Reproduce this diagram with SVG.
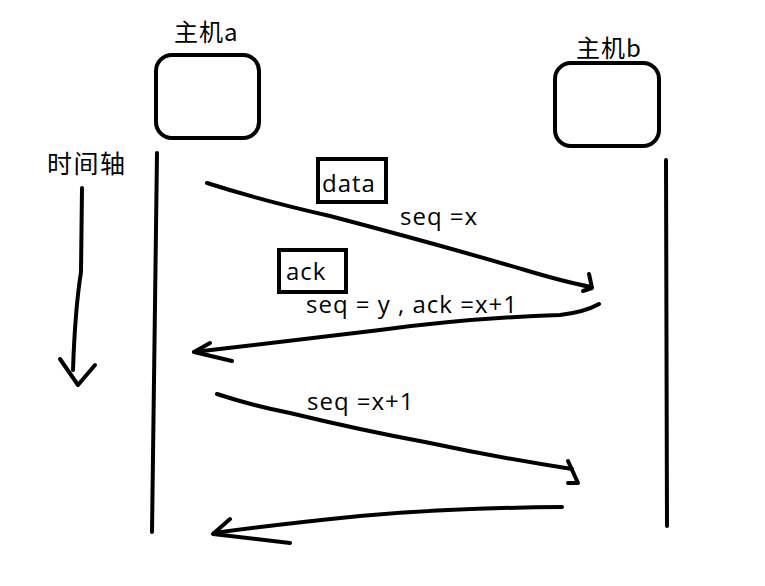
<svg xmlns="http://www.w3.org/2000/svg" width="765" height="586" viewBox="0 0 765 586">
<style>
.ln{fill:none;stroke:#000;stroke-width:4;stroke-linecap:round;stroke-linejoin:round}
.bx{fill:#fff;stroke:#000;stroke-width:4}
.t{font-family:"Noto Sans CJK SC","Noto Sans",sans-serif;fill:#000}
.s{font-family:"Open Sans","Noto Sans",sans-serif;font-size:24px;letter-spacing:1px;fill:#000}
</style>
<rect width="765" height="586" fill="#fff"/>
<g id="hostA">
<rect class="bx" x="156" y="55" width="103" height="83" rx="16"/>
<text class="t" x="174" y="41" font-size="24" letter-spacing="1">主机a</text>
</g>
<g id="hostB">
<rect class="bx" x="555" y="63" width="104" height="83" rx="16"/>
<text class="t" x="576" y="57" font-size="24" letter-spacing="1">主机b</text>
</g>
<g id="timeAxis">
<text class="t" x="47" y="173" font-size="25" letter-spacing="1.5">时间轴</text>
<path class="ln" d="M82 188 L81 272 Q75 310 73 370"/>
<path class="ln" d="M60 359 L78 385 L95 365"/>
</g>
<g id="lifelines">
<path class="ln" d="M157 153 L152 532"/>
<path class="ln" d="M666 160 L667 526"/>
</g>
<g id="labels">
<rect class="bx" x="318" y="159" width="68" height="43" fill="none"/>
<text class="s" x="322" y="192">data</text>
<text class="s" x="400" y="225">seq =x</text>
<rect class="bx" x="279" y="250" width="67" height="42" fill="none"/>
<text class="s" x="286" y="280">ack</text>
<text class="s" x="306" y="313">seq = y , ack =x+1</text>
<text class="s" x="307" y="410">seq =x+1</text>
</g>
<g id="connectors">
<path class="ln" d="M207 183 Q260 200 330 216 Q440 245 525 270 Q565 282 591 287"/>
<path class="ln" d="M589 274 L592 288 L583 291"/>
<path class="ln" d="M599 304 Q585 312 560 315 Q470 318 380 330 Q280 342 194 352"/>
<path class="ln" d="M210 343 L194 352 L232 361"/>
<path class="ln" d="M217 394 Q250 405 290 413 Q360 430 425 442 Q500 458 572 469"/>
<path class="ln" d="M568 461 L578 483 L568 483"/>
<path class="ln" d="M562 507 Q450 508 360 516 Q280 524 214 533"/>
<path class="ln" d="M230 519 L213 534 L290 543"/>
</g>
</svg>
